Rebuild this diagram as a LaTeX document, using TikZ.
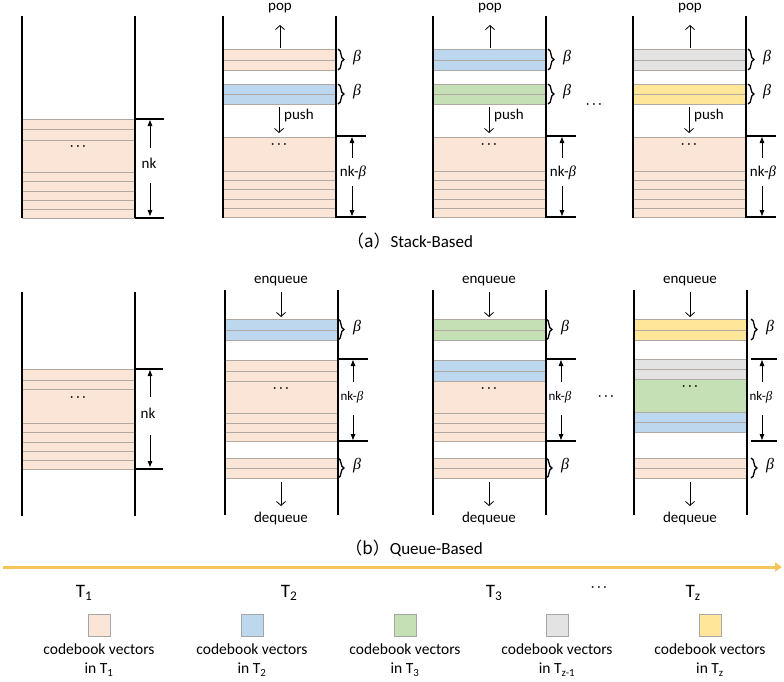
\documentclass[tikz,border=0pt]{standalone}
\usepackage{fontspec}
\setmainfont{Carlito}
\newfontfamily\cjk{Noto Sans CJK SC}
\newfontfamily\bfnt{Liberation Serif}
\usetikzlibrary{arrows.meta,decorations.pathreplacing,calc}
\definecolor{cpink}{HTML}{FBE5D6}
\definecolor{cblue}{HTML}{BDD7EE}
\definecolor{cgreen}{HTML}{C5E0B4}
\definecolor{cgray}{HTML}{E3E3E3}
\definecolor{cyel}{HTML}{FFE699}
\definecolor{csep}{HTML}{B0A8A2}
\definecolor{ctime}{HTML}{F5C55A}
\newcommand\bet{{\bfnt\itshape β}}
\tikzset{
  wall/.style={line width=1.3pt, black},
  sepline/.style={draw=csep, line width=0.8pt},
  dimline/.style={line width=1.3pt},
  dimarrow/.style={line width=0.8pt, -{Triangle[length=6pt,width=4.5pt]}},
  oparrow/.style={line width=0.8pt, -{Straight Barb[length=4pt,width=9pt]}},
  brc/.style={decorate, decoration={brace, amplitude=6pt}, line width=1.3pt},
  lbl/.style={font=\fontsize{15}{17}\selectfont, inner sep=0pt},
  smlbl/.style={font=\fontsize{13}{15}\selectfont, inner sep=0pt},
  beta/.style={font=\fontsize{16}{18}\selectfont, inner sep=0pt, anchor=west},
  dots/.style={font=\fontsize{13}{15}\selectfont\boldmath, inner sep=0pt},
  legbox/.style={draw=black!35, line width=0.6pt, minimum width=22pt, minimum height=22pt, inner sep=0pt},
}
% block: color, ytop, ybottom, list of separator y's
\newcommand\blk[4]{\fill[#1] (0,#2) rectangle (113,#3);
  \foreach \yy in {#4}{\draw[sepline] (0,\yy) -- (113,\yy);}}
% brace with beta: prefix, ytop, ybottom, xstart
\newcommand\bbrace[4]{\coordinate (#1t) at (#4,#2); \coordinate (#1b) at (#4,#3);
  \draw[brc] (#1t) -- (#1b);
  \node[beta] (#1beta) at ($(#1t)!0.5!(#1b)+(15,-2)$) {\bet};}
% stack panel: xshift, prefix, color1, color2
\newcommand\stackpanel[4]{%
\begin{scope}[xshift=#1pt]
  \blk{#3}{49}{70}{49,60,70}
  \blk{#4}{84}{104}{84,94,104}
  \blk{cpink}{137}{217}{137,171,180,189,199,208,217}
  \draw[wall] (0,16) -- (0,218);
  \draw[wall] (113,16) -- (113,218);
  \node[lbl] (#2pop) at (57,8) {pop};
  \coordinate (#2pa) at (57,48); \coordinate (#2pb) at (57,25);
  \draw[oparrow] (#2pa) -- (#2pb);
  \coordinate (#2sa) at (56,107); \coordinate (#2sb) at (56,133);
  \draw[oparrow] (#2sa) -- (#2sb);
  \node[lbl, anchor=west] (#2push) at (61,115) {push};
  \node[dots] (#2dots) at (56,145) {$\cdots$};
  \bbrace{#2bA}{49}{70}{115}
  \bbrace{#2bB}{84}{104}{115}
  \coordinate (#2d1a) at (113,136); \coordinate (#2d1b) at (143,136);
  \coordinate (#2d2a) at (113,217); \coordinate (#2d2b) at (143,217);
  \draw[dimline] (#2d1a) -- (#2d1b);
  \draw[dimline] (#2d2a) -- (#2d2b);
  \node[lbl] (#2nk) at (130,173) {nk-\bet};
  \coordinate (#2u0) at (129,158); \coordinate (#2u1) at (129,137);
  \coordinate (#2w0) at (129,186); \coordinate (#2w1) at (129,216);
  \draw[dimarrow] (#2u0) -- (#2u1);
  \draw[dimarrow] (#2w0) -- (#2w1);
\end{scope}}
% queue panel: xshift, prefix, top color, middle code, dim start x
\newcommand\queuepanel[5]{%
\begin{scope}[xshift=#1pt]
  \blk{#3}{319}{340}{319,330,340}
  #4
  \blk{cpink}{458}{478}{458,468,478}
  \draw[wall] (0,290) -- (0,515);
  \draw[wall] (113,290) -- (113,515);
  \node[lbl] (#2enq) at (56,281) {enqueue};
  \coordinate (#2ea) at (56,292); \coordinate (#2eb) at (56,317);
  \draw[oparrow] (#2ea) -- (#2eb);
  \coordinate (#2qa) at (56,482); \coordinate (#2qb) at (56,506);
  \draw[oparrow] (#2qa) -- (#2qb);
  \node[lbl] (#2deq) at (56,518) {dequeue};
  \bbrace{#2bA}{319}{340}{#5}
  \bbrace{#2bB}{458}{478}{#5}
  \coordinate (#2d1a) at (#5,359); \coordinate (#2d1b) at (143,359);
  \coordinate (#2d2a) at (#5,441); \coordinate (#2d2b) at (143,441);
  \draw[dimline] (#2d1a) -- (#2d1b);
  \draw[dimline] (#2d2a) -- (#2d2b);
  \node[smlbl] (#2nk) at (127,397) {nk-\bet};
  \coordinate (#2u0) at (128,382); \coordinate (#2u1) at (128,360);
  \coordinate (#2w0) at (128,415); \coordinate (#2w1) at (128,440);
  \draw[dimarrow] (#2u0) -- (#2u1);
  \draw[dimarrow] (#2w0) -- (#2w1);
\end{scope}}
\begin{document}
\begin{tikzpicture}[x=1pt,y=-1pt]
\useasboundingbox (0,0) rectangle (784,681);
% ---------- (a) stack ----------
\begin{scope}[xshift=22pt]
  \blk{cpink}{119}{218}{119,129,140,172,181,191,200,209,218}
  \draw[wall] (0,16) -- (0,218);
  \draw[wall] (113,16) -- (113,218);
  \node[dots] (a1dots) at (56,147) {$\cdots$};
  \coordinate (a1d1a) at (113,119); \coordinate (a1d1b) at (142,119);
  \coordinate (a1d2a) at (113,218); \coordinate (a1d2b) at (142,218);
  \draw[dimline] (a1d1a) -- (a1d1b);
  \draw[dimline] (a1d2a) -- (a1d2b);
  \node[lbl] (a1nk) at (127,163) {nk};
  \coordinate (a1u0) at (128,148); \coordinate (a1u1) at (128,120);
  \coordinate (a1w0) at (128,183); \coordinate (a1w1) at (128,216);
  \draw[dimarrow] (a1u0) -- (a1u1);
  \draw[dimarrow] (a1w0) -- (a1w1);
\end{scope}
\stackpanel{223}{a2}{cpink}{cblue}
\stackpanel{433}{a3}{cblue}{cgreen}
\stackpanel{633}{a4}{cgray}{cyel}
\node[dots] (adots) at (594,105) {$\cdots$};
\node[font=\fontsize{17}{20}\selectfont, inner sep=0pt] (capa) at (410,241) {{\cjk （a）}Stack-Based};
% ---------- (b) queue ----------
\begin{scope}[xshift=22pt]
  \blk{cpink}{369}{469}{369,380,389,423,432,442,451,460,469}
  \draw[wall] (0,292) -- (0,516);
  \draw[wall] (113,292) -- (113,516);
  \node[dots] (b1dots) at (56,398) {$\cdots$};
  \coordinate (b1d1a) at (113,369); \coordinate (b1d1b) at (141,369);
  \coordinate (b1d2a) at (113,469); \coordinate (b1d2b) at (141,469);
  \draw[dimline] (b1d1a) -- (b1d1b);
  \draw[dimline] (b1d2a) -- (b1d2b);
  \node[lbl] (b1nk) at (126,413) {nk};
  \coordinate (b1u0) at (128,397); \coordinate (b1u1) at (128,370);
  \coordinate (b1w0) at (128,435); \coordinate (b1w1) at (128,467);
  \draw[dimarrow] (b1u0) -- (b1u1);
  \draw[dimarrow] (b1w0) -- (b1w1);
\end{scope}
\queuepanel{225}{b2}{cblue}{\blk{cpink}{360}{441}{360,371,381,413,423,432,441}\node[dots] (b2dots) at (56,389) {$\cdots$};}{113}
\queuepanel{433}{b3}{cgreen}{\blk{cblue}{360}{381}{360,371}\blk{cpink}{381}{441}{381,413,423,432,441}\node[dots] (b3dots) at (56,389) {$\cdots$};}{113}
\queuepanel{634}{b4}{cyel}{\blk{cgray}{359}{379}{359,369}\blk{cgreen}{379}{412}{379}\blk{cblue}{412}{432}{412,422,432}\node[dots] (b4dots) at (56,387) {$\cdots$};}{117}
\node[dots] (bdots) at (606,397) {$\cdots$};
\node[font=\fontsize{17}{20}\selectfont, inner sep=0pt] (capb) at (414,548) {{\cjk （b）}Queue-Based};
% ---------- timeline ----------
\coordinate (tl0) at (3,567); \coordinate (tl1) at (782,567);
\draw[ctime, line width=3pt, -{Triangle[length=7pt,width=9pt]}] (tl0) -- (tl1);
\node[font=\fontsize{19}{21}\selectfont, inner sep=0pt] (T1) at (84,593) {T\textsubscript{1}};
\node[font=\fontsize{19}{21}\selectfont, inner sep=0pt] (T2) at (289,593) {T\textsubscript{2}};
\node[font=\fontsize{19}{21}\selectfont, inner sep=0pt] (T3) at (494,593) {T\textsubscript{3}};
\node[dots] (Tdots) at (599,588) {$\cdots$};
\node[font=\fontsize{19}{21}\selectfont, inner sep=0pt] (Tz) at (693,593) {T\textsubscript{z}};
% ---------- legend ----------
\foreach \cx/\col/\sub/\nm in {99/cpink/1/l1, 252/cblue/2/l2, 405/cgreen/3/l3, 557/cgray/{z-1}/l4, 710/cyel/z/l5}{
  \node[legbox, fill=\col] (\nm box) at (\cx,625) {};
  \node[font=\fontsize{15.5}{19}\selectfont, align=center, inner sep=0pt, anchor=north] (\nm txt) at (\cx,644) {codebook vectors\\in T\textsubscript{\sub}};
}
\end{tikzpicture}
\end{document}
